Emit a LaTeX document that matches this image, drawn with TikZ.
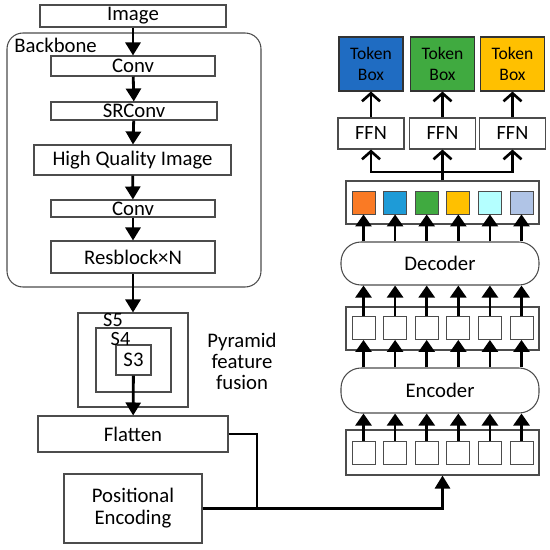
\documentclass[tikz,border=0pt]{standalone}
\usepackage{fontspec}
\setmainfont{Carlito}
\usetikzlibrary{positioning, arrows.meta, calc}
\definecolor{tokblue}{RGB}{31,108,194}
\definecolor{tokgreen}{RGB}{64,170,64}
\definecolor{tokyellow}{RGB}{255,192,0}
\definecolor{qorange}{RGB}{250,122,36}
\definecolor{qblue}{RGB}{30,155,215}
\definecolor{qcyan}{RGB}{180,255,255}
\definecolor{qsteel}{RGB}{176,196,230}

\begin{document}
\begin{tikzpicture}[x=0.02cm, y=-0.02cm,
    box/.style={draw=black!70, line width=0.6pt, inner sep=0pt, align=center, font=\fontsize{11.8}{12.5}\selectfont},
    flow/.style={-{Triangle[length=0.26cm, width=0.30cm]}, line width=1.6pt},
    up/.style={-{Triangle[length=0.24cm, width=0.32cm]}, line width=1.5pt},
    vee/.style={-{Straight Barb[length=0.16cm, width=0.36cm]}, line width=1.5pt},
    cell/.style={draw=black!70, line width=0.5pt, minimum size=0.46cm, inner sep=0pt}]
    \useasboundingbox (0,0) rectangle (550,550);

    % Backbone
    \node[box, minimum width=3.72cm, minimum height=0.44cm] (img) at (133,16) {Image};
    \draw[black!70, line width=0.6pt, rounded corners=0.32cm] (7,33) rectangle (261,287);
    \node[anchor=west, inner sep=0pt, font=\fontsize{11.8}{12.5}\selectfont] (bb) at (14,45) {Backbone};
    \node[box, minimum width=3.28cm, minimum height=0.40cm] (conv1) at (133,66) {Conv};
    \node[box, minimum width=3.32cm, minimum height=0.36cm] (srconv) at (134,111) {SRConv};
    \node[box, minimum width=3.94cm, minimum height=0.60cm] (hq) at (132.5,160) {High Quality Image};
    \node[box, minimum width=3.28cm, minimum height=0.34cm] (conv2) at (133,208.5) {Conv};
    \node[box, minimum width=3.28cm, minimum height=0.64cm] (res) at (133,257) {Resblock×N};

    % Pyramid
    \node[box, minimum width=2.20cm, minimum height=1.88cm] (s5) at (133,360) {};
    \node[box, minimum width=1.50cm, minimum height=1.28cm] (s4) at (133.5,360) {};
    \node[box, minimum width=0.70cm, minimum height=0.60cm] (s3) at (133.5,360) {S3};
    \node[inner sep=0pt, text depth=0pt, font=\fontsize{11.5}{12.5}\selectfont] (s5l) at (113,320) {S5};
    \node[inner sep=0pt, text depth=0pt, font=\fontsize{11.5}{12.5}\selectfont] (s4l) at (120.5,339) {S4};
    \node[align=center, inner sep=0pt, font=\fontsize{11.8}{12}\selectfont] (pff) at (242,361) {Pyramid\\feature\\fusion};

    \node[box, minimum width=3.80cm, minimum height=0.72cm] (flat) at (133,434) {Flatten};
    \node[box, minimum width=2.76cm, minimum height=1.38cm] (pos) at (133,508.5) {Positional\\Encoding};

    \draw[flow] (img) -- (conv1);
    \draw[flow] (conv1) -- (srconv);
    \draw[flow] (srconv) -- (hq);
    \draw[flow] (hq) -- (conv2);
    \draw[flow] (conv2) -- (res);
    \draw[flow] (res) -- (s5);
    \draw[flow] (s3) -- (flat);

    % Transformer
    \foreach \c/\x/\n in {tokblue/371/1, tokgreen/442.5/2, tokyellow/512.5/3} {
        \node[box, fill=\c, draw=black!80, minimum width=1.28cm, minimum height=1.08cm,
              font=\fontsize{10}{11.5}\selectfont] (tok\n) at (\x,64) {Token\\Box};
        \node[box, minimum width=1.32cm, minimum height=0.62cm, font=\fontsize{11.5}{12}\selectfont] (ffn\n) at (\x,133.5) {FFN};
        \draw[vee] (ffn\n) -- (tok\n);
    }

    \node[box, minimum width=3.86cm, minimum height=0.86cm] (row1) at (442.5,202.5) {};
    \node[box, rounded corners=0.4cm, minimum width=3.96cm, minimum height=0.86cm] (dec) at (440,263.5) {Decoder};
    \node[box, minimum width=3.86cm, minimum height=0.86cm] (row2) at (442.5,328.5) {};
    \node[box, rounded corners=0.4cm, minimum width=3.96cm, minimum height=0.90cm] (enc) at (440,390.5) {Encoder};
    \node[box, minimum width=3.86cm, minimum height=0.90cm] (row3) at (442.5,452.5) {};

    \foreach \c [count=\i] in {qorange,qblue,tokgreen,tokyellow,qcyan,qsteel} {
        \node[cell, fill=\c] (d\i) at ({363.5+31.6*(\i-1)},202.5) {};
        \node[cell] (m\i) at ({363.5+31.6*(\i-1)},328) {};
        \node[cell] (e\i) at ({363.5+31.6*(\i-1)},452.5) {};
        \draw[up] (d\i |- dec.north) -- (d\i.south);
        \draw[up] (m\i.north) -- (m\i |- dec.south);
        \draw[up] (m\i |- enc.north) -- (m\i.south);
        \draw[up] (e\i.north) -- (e\i |- enc.south);
    }

    \coordinate (bus) at (442.5,172);
    \draw[vee] (row1) -- (ffn2);
    \draw[vee] (bus) -| (ffn1);
    \draw[vee] (bus) -| (ffn3);

    % flatten + positional encoding into encoder input
    \coordinate (jn) at (257,508);
    \draw[line width=1.3pt] (flat.east) -| (jn);
    \draw[flow] (pos.east) -| (row3.south);
\end{tikzpicture}
\end{document}
